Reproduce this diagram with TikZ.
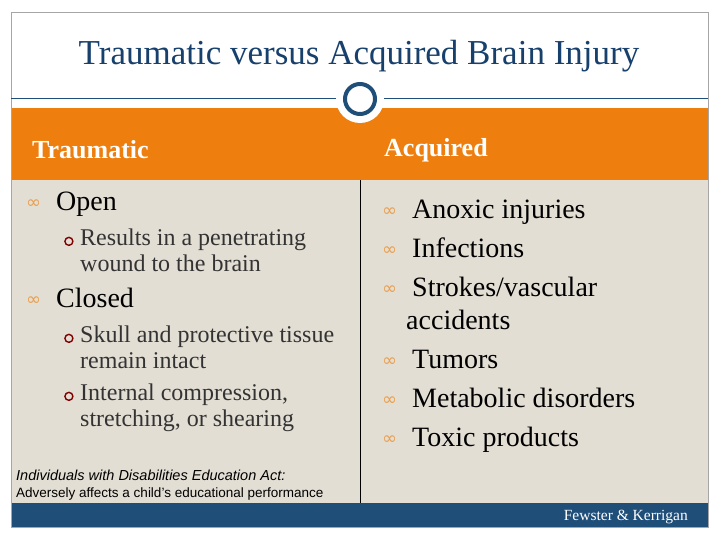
\documentclass[tikz,border=0pt]{standalone}
\usepackage{fontspec}
\setmainfont{Liberation Serif}
\setsansfont{Liberation Sans}
\newfontfamily\dv{DejaVu Sans}
\definecolor{navy}{HTML}{1F4E79}
\definecolor{orng}{HTML}{EE7F0F}
\definecolor{beige}{HTML}{E3DED4}
\definecolor{ttl}{HTML}{17406D}
\definecolor{subc}{HTML}{333333}
\definecolor{bul}{HTML}{E8A050}
\newcommand{\bl}{\makebox[30pt][l]{\raisebox{2pt}{\dv\color{bul}\fontsize{18}{18}\selectfont ∞}}}
\newcommand{\sbl}{\makebox[16pt][l]{\tikz[baseline=-4.5]\draw[draw=red!50!black,line width=1.4pt](0,0) circle (4);}}
\tikzset{x=1pt,y=-1pt,
 lvl/.style={anchor=north west,align=left,inner sep=0pt,font=\fontsize{28}{34}\selectfont},
 sub/.style={anchor=north west,align=left,inner sep=0pt,text=subc,font=\fontsize{24}{26}\selectfont}}
\begin{document}
\begin{tikzpicture}
\useasboundingbox (0,0) rectangle (720,540);
\fill[white] (0,0) rectangle (720,540);
\fill[beige] (11,180) rectangle (708,503);
\fill[orng] (11,108) rectangle (708,180);
\fill[navy] (11,503) rectangle (708,527);
\draw[gray!70,line width=0.8pt] (11,12) rectangle (708,527);
\draw[navy,line width=1pt] (11,99) -- (708,99);
\draw[black,line width=0.8pt] (360,180) -- (360,503);
\fill[white] (360,99) circle (24);
\draw[navy,line width=4pt,fill=white] (360,99) circle (15);
\node[text=ttl,font=\fontsize{35}{40}\selectfont] (title) at (359,56) {Traumatic versus Acquired Brain Injury};
\node[anchor=west,inner sep=0pt,text=white,font=\bfseries\fontsize{26}{30}\selectfont] (h1) at (32,150) {Traumatic};
\node[anchor=west,inner sep=0pt,text=white,font=\bfseries\fontsize{26}{30}\selectfont] (h2) at (384,150) {Acquired};
\node[lvl] (o) at (26,192) {\bl Open};
\node[sub] (o1) at (64,229) {\sbl Results in a penetrating\\\hspace{16pt}wound to the brain};
\node[lvl] (c) at (26,288) {\bl Closed};
\node[sub] (c1) at (64,326) {\sbl Skull and protective tissue\\\hspace{16pt}remain intact\\[6pt]\sbl Internal compression,\\\hspace{16pt}stretching, or shearing};
\node[lvl,font=\fontsize{28}{33}\selectfont] (r) at (382,200) {\bl Anoxic injuries\\[6pt]\bl Infections\\[6pt]\bl Strokes/vascular\\\hspace{24pt}accidents\\[6pt]\bl Tumors\\[6pt]\bl Metabolic disorders\\[6pt]\bl Toxic products};
\node[anchor=west,inner sep=0pt,font=\sffamily\itshape\fontsize{14.5}{18}\selectfont] (i1) at (16,475) {Individuals with Disabilities Education Act:};
\node[anchor=west,inner sep=0pt,font=\sffamily\fontsize{13.5}{15}\selectfont] (i2) at (16,494) {Adversely affects a child's educational performance};
\node[anchor=east,inner sep=0pt,text=white,font=\fontsize{15.5}{16}\selectfont] (fk) at (688,517) {Fewster \& Kerrigan};
\end{tikzpicture}
\end{document}
